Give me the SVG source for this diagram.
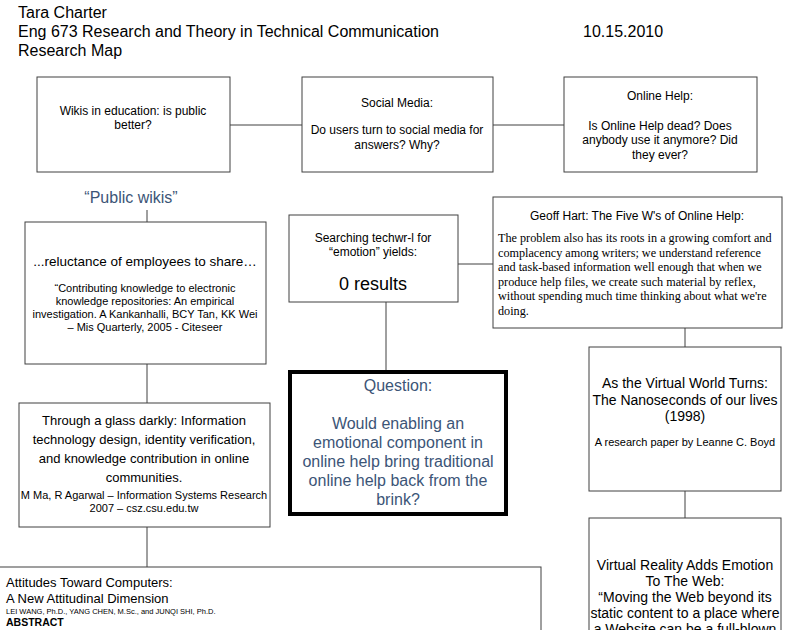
<svg xmlns="http://www.w3.org/2000/svg" width="794" height="630" viewBox="0 0 794 630">
<style>
.box{fill:#fff;stroke:#404040;stroke-width:1}
.q{fill:#fff;stroke:#000;stroke-width:4}
.ln{stroke:#404040;stroke-width:1;fill:none}
text{font-family:"Liberation Sans",Arial,sans-serif;fill:#000}
.c{text-anchor:middle}
.t12{font-size:12px}
.t11{font-size:11px}
.t14{font-size:14px}
.t13{font-size:13px}
.blue{fill:#3c5577}
.serif{font-family:"Liberation Serif","Times New Roman",serif;font-size:12.2px}
</style>
<rect width="794" height="630" fill="#fff"/>
<g id="header">
<text x="18" y="18" font-size="16">Tara Charter</text>
<text x="18" y="37" font-size="16">Eng 673 Research and Theory in Technical Communication</text>
<text x="583" y="37" font-size="16">10.15.2010</text>
<text x="18" y="56" font-size="16">Research Map</text>
</g>
<g id="connectors">
<line class="ln" x1="230" y1="125" x2="302" y2="125"/>
<line class="ln" x1="493" y1="125" x2="564" y2="125"/>
<line class="ln" x1="147" y1="210" x2="147" y2="222"/>
<line class="ln" x1="147" y1="364" x2="147" y2="403"/>
<line class="ln" x1="147" y1="527" x2="147" y2="567"/>
<line class="ln" x1="458" y1="264" x2="493" y2="264"/>
<line class="ln" x1="386" y1="302" x2="386" y2="372"/>
<line class="ln" x1="685" y1="328" x2="685" y2="347"/>
<line class="ln" x1="685" y1="473" x2="685" y2="518"/>
</g>
<g id="wikis">
<rect class="box" x="37" y="77" width="193" height="95"/>
<text class="c t12" x="133" y="115">Wikis in education: is public</text>
<text class="c t12" x="133" y="129">better?</text>
</g>
<g id="social">
<rect class="box" x="302" y="77" width="191" height="95"/>
<text class="c t12" x="397" y="107">Social Media:</text>
<text class="c t12" x="397" y="134">Do users turn to social media for</text>
<text class="c t12" x="397" y="149">answers? Why?</text>
</g>
<g id="onlinehelp">
<rect class="box" x="564" y="77" width="193" height="95"/>
<text class="c t12" x="660" y="100">Online Help:</text>
<text class="c t12" x="660" y="130">Is Online Help dead? Does</text>
<text class="c t12" x="660" y="144">anybody use it anymore? Did</text>
<text class="c t12" x="660" y="159">they ever?</text>
</g>
<g id="publicwikis">
<text class="c blue" x="131" y="203" font-size="16">“Public wikis”</text>
</g>
<g id="reluctance">
<rect class="box" x="25" y="222" width="241" height="142"/>
<text class="c" x="145" y="266" font-size="13.5">...reluctance of employees to share…</text>
<text class="c t11" x="145" y="292">“Contributing knowledge to electronic</text>
<text class="c t11" x="145" y="305">knowledge repositories: An empirical</text>
<text class="c t11" x="145" y="318">investigation. A Kankanhalli, BCY Tan, KK Wei</text>
<text class="c t11" x="145" y="331">– Mis Quarterly, 2005 - Citeseer</text>
</g>
<g id="glass">
<rect class="box" x="19" y="403" width="251" height="124"/>
<text class="c t13" x="144" y="425">Through a glass darkly: Information</text>
<text class="c t13" x="144" y="444">technology design, identity verification,</text>
<text class="c t13" x="144" y="463">and knowledge contribution in online</text>
<text class="c t13" x="144" y="482">communities.</text>
<text class="c t11" x="144" y="499">M Ma, R Agarwal – Information Systems Research</text>
<text class="c t11" x="144" y="512">2007 – csz.csu.edu.tw</text>
</g>
<g id="attitudes">
<rect class="box" x="-1" y="567" width="542" height="70"/>
<text class="t13" x="6" y="587">Attitudes Toward Computers:</text>
<text class="t13" x="6" y="603">A New Attitudinal Dimension</text>
<text x="6" y="614" font-size="7.5">LEI WANG, Ph.D., YANG CHEN, M.Sc., and JUNQI SHI, Ph.D.</text>
<text x="6" y="626" font-size="10.5" font-weight="bold">ABSTRACT</text>
</g>
<g id="searching">
<rect class="box" x="289" y="215" width="169" height="87"/>
<text class="c t12" x="373" y="242">Searching techwr-l for</text>
<text class="c t12" x="373" y="256">“emotion” yields:</text>
<text class="c" x="373" y="290" font-size="18">0 results</text>
</g>
<g id="geoff">
<rect class="box" x="493" y="197" width="289" height="131"/>
<text class="c t12" x="637" y="220">Geoff Hart: The Five W's of Online Help:</text>
<text class="serif" x="498" y="242">The problem also has its roots in a growing comfort and</text>
<text class="serif" x="498" y="256.5">complacency among writers; we understand reference</text>
<text class="serif" x="498" y="271">and task-based information well enough that when we</text>
<text class="serif" x="498" y="285.5">produce help files, we create such material by reflex,</text>
<text class="serif" x="498" y="300">without spending much time thinking about what we're</text>
<text class="serif" x="498" y="314.5">doing.</text>
</g>
<g id="question">
<rect class="q" x="290" y="372" width="216" height="142"/>
<text class="c blue" x="398" y="391" font-size="16">Question:</text>
<text class="c blue" x="398" y="429" font-size="16">Would enabling an</text>
<text class="c blue" x="398" y="448" font-size="16">emotional component in</text>
<text class="c blue" x="398" y="467" font-size="16">online help bring traditional</text>
<text class="c blue" x="398" y="486" font-size="16">online help back from the</text>
<text class="c blue" x="398" y="505" font-size="16">brink?</text>
</g>
<g id="virtualworld">
<rect class="box" x="589" y="347" width="192" height="144"/>
<text class="c t14" x="685" y="388">As the Virtual World Turns:</text>
<text class="c t14" x="685" y="405">The Nanoseconds of our lives</text>
<text class="c t14" x="685" y="421">(1998)</text>
<text class="c t11" x="685" y="446">A research paper by Leanne C. Boyd</text>
</g>
<g id="virtualreality">
<rect class="box" x="589" y="518" width="192" height="120"/>
<text class="c t14" x="685" y="570">Virtual Reality Adds Emotion</text>
<text class="c t14" x="685" y="586">To The Web:</text>
<text class="c t14" x="685" y="602">“Moving the Web beyond its</text>
<text class="c t14" x="685" y="618">static content to a place where</text>
<text class="c t14" x="685" y="634">a Website can be a full-blown</text>
</g>
</svg>
